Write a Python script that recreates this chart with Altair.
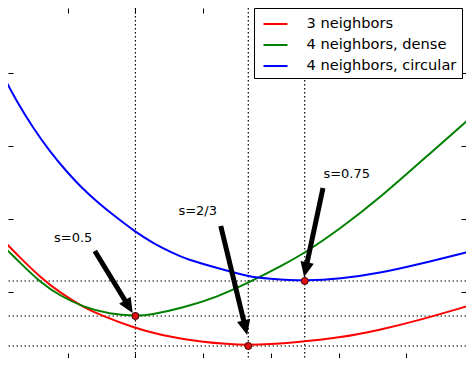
import math
import altair as alt
import pandas as pd

# ---- data ----
series_names = ["3 neighbors", "4 neighbors, dense", "4 neighbors, circular"]
series_colors = ["#ff0000", "#008000", "#0000ff"]

red_s = [0.300, 0.330, 0.359, 0.389, 0.423, 0.448, 0.499, 0.536, 0.595, 0.667, 0.743, 0.799, 0.861, 0.920, 0.991]
red_y = [1.758, 1.471, 1.211, 0.992, 0.800, 0.691, 0.513, 0.417, 0.321, 0.267, 0.321, 0.376, 0.486, 0.622, 0.814]

green_s = [0.300, 0.330, 0.359, 0.389, 0.423, 0.462, 0.500, 0.522, 0.570, 0.621, 0.669, 0.718, 0.750, 0.802, 0.861, 0.939, 0.991]
green_y = [1.676, 1.402, 1.142, 0.951, 0.800, 0.705, 0.677, 0.691, 0.787, 0.937, 1.142, 1.375, 1.539, 1.868, 2.291, 2.934, 3.358]

blue_s = [0.3025, 0.3247, 0.3492, 0.3738, 0.3985, 0.4181, 0.4428, 0.4673, 0.4994, 0.5264, 0.5559,
          0.5757, 0.6205, 0.6692, 0.6943, 0.7504, 0.8021, 0.8612, 0.9203, 0.9911]
blue_y = [4.001, 3.609, 3.245, 2.925, 2.651, 2.456, 2.241, 2.059, 1.830, 1.672, 1.535,
          1.453, 1.334, 1.211, 1.190, 1.156, 1.183, 1.265, 1.389, 1.553]

opt_s = [0.5, 2 / 3, 0.75]
opt_y = [0.677, 0.267, 1.156]

label_text = ["s=0.5", "s=2/3", "s=0.75"]
label_s = [0.408, 0.592, 0.812]
label_y = [1.744, 2.114, 2.620]

arrow_tail_s = [0.440, 0.626, 0.777]
arrow_tail_y = [1.566, 1.908, 2.428]
arrow_tip_s = [0.496, 0.665, 0.749]
arrow_tip_y = [0.718, 0.417, 1.211]

x_ticks = [0.4, 0.5, 0.6, 0.7, 0.8, 0.9]
y_ticks = [1, 2, 3, 4]

# ---- layout: the visible window of the original axes ----
W, H = 458, 350
X_DOM = [0.31181, 0.98818]
Y_DOM = [0.1026, 4.8906]
FONT = "DejaVu Sans"

curves = pd.DataFrame(
    [{"s": s, "v": v, "series": series_names[0]} for s, v in zip(red_s, red_y)]
    + [{"s": s, "v": v, "series": series_names[1]} for s, v in zip(green_s, green_y)]
    + [{"s": s, "v": v, "series": series_names[2]} for s, v in zip(blue_s, blue_y)]
)
opt = pd.DataFrame({"s": opt_s, "v": opt_y})
labels = pd.DataFrame({"s": label_s, "v": label_y, "t": label_text})

# arrow geometry (pixel scale factors from the scales)
px_x = W / (X_DOM[1] - X_DOM[0])
px_y = H / (Y_DOM[1] - Y_DOM[0])
head_len = 15
rows = []
for ts, ty, hs, hy in zip(arrow_tail_s, arrow_tail_y, arrow_tip_s, arrow_tip_y):
    dx = (hs - ts) * px_x
    dy = -(hy - ty) * px_y
    L = math.hypot(dx, dy)
    ux, uy = dx / L, dy / L
    back = head_len - 3
    bs = hs - ux * back / px_x
    by = hy + uy * back / px_y
    ang = math.degrees(math.atan2(ux, -uy)) % 360
    rows.append({"ts": ts, "ty": ty, "bs": bs, "by": by, "hs": hs, "hy": hy, "ang": ang})
arrows = pd.DataFrame(rows)

tick_axis = dict(labels=False, domain=False, grid=False, ticks=True, tickColor="black",
                 tickSize=5, tickWidth=1, offset=-5, title=None)

xs = alt.Scale(domain=X_DOM, nice=False, zero=False)
ys = alt.Scale(domain=Y_DOM, nice=False, zero=False)

dot = dict(color="black", strokeWidth=1.2, strokeDash=[1.5, 2.5])

hrules = alt.Chart(opt).mark_rule(**dot).encode(
    y=alt.Y("v:Q", scale=ys, axis=alt.Axis(orient="right", values=y_ticks, **tick_axis))
)
vrules = alt.Chart(opt).mark_rule(**dot).encode(
    x=alt.X("s:Q", scale=xs, axis=alt.Axis(orient="top", values=x_ticks, **tick_axis))
)

lines = alt.Chart(curves).mark_line(strokeWidth=2, clip=True, interpolate="basis").encode(
    x=alt.X("s:Q", scale=xs, axis=alt.Axis(orient="bottom", values=x_ticks, **tick_axis)),
    y=alt.Y("v:Q", scale=ys, axis=alt.Axis(orient="left", values=y_ticks, **tick_axis)),
    color=alt.Color(
        "series:N",
        sort=series_names,
        scale=alt.Scale(domain=series_names, range=series_colors),
        legend=alt.Legend(
            orient="none", legendX=246, legendY=0, title=None,
            strokeColor="black", fillColor="white", padding=5, cornerRadius=0,
            labelFont=FONT, labelFontSize=14.6, labelColor="black", labelLimit=300,
            labelOffset=20, symbolType="M-1.2,0L1.2,0", symbolSize=400,
            symbolStrokeWidth=2, symbolOffset=5.5, rowPadding=3,
        ),
    ),
)

shafts = alt.Chart(arrows).mark_rule(color="black", strokeWidth=5, strokeCap="butt").encode(
    x=alt.X("ts:Q", scale=xs, axis=None), y=alt.Y("ty:Q", scale=ys, axis=None),
    x2="bs:Q", y2="by:Q"
)
heads = alt.Chart(arrows).mark_point(
    shape="M0,0L0.45,1L-0.45,1Z", filled=True, color="black", opacity=1, size=900
).encode(
    x=alt.X("hs:Q", scale=xs, axis=None), y=alt.Y("hy:Q", scale=ys, axis=None),
    angle=alt.Angle("ang:Q", scale=None)
)

points = alt.Chart(opt).mark_circle(size=50, fill="#e01010", stroke="#400000", strokeWidth=1, opacity=1).encode(
    x=alt.X("s:Q", scale=xs, axis=None), y=alt.Y("v:Q", scale=ys, axis=None)
)

texts = alt.Chart(labels).mark_text(font=FONT, fontSize=13, color="black", align="center", baseline="middle").encode(
    x=alt.X("s:Q", scale=xs, axis=None), y=alt.Y("v:Q", scale=ys, axis=None), text="t:N"
)

chart = alt.layer(hrules, vrules, lines, shafts, heads, points, texts).properties(
    width=W, height=H, padding=0, autosize=alt.AutoSizeParams(type="none")
).configure_view(stroke=None)

chart.save("out.html", embed_options={"renderer": "svg", "actions": False})
